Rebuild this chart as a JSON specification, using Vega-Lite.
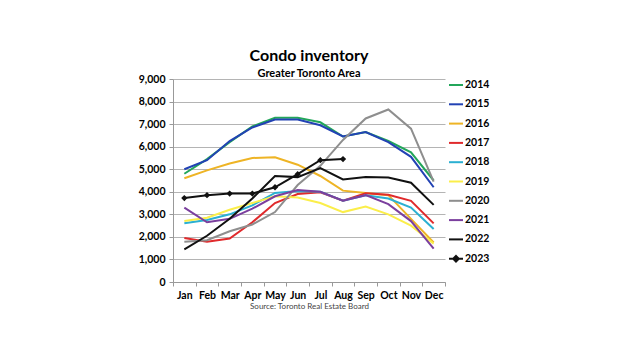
{
  "$schema": "https://vega.github.io/schema/vega-lite/v6.json",
  "autosize": "none",
  "width": 272,
  "height": 203,
  "padding": {"left": 173, "top": 79, "right": 195, "bottom": 78},
  "background": "white",
  "title": {
    "text": "Condo inventory",
    "subtitle": "Greater Toronto Area",
    "font": "Lato",
    "fontSize": 16,
    "fontWeight": "bold",
    "subtitleFont": "Lato",
    "subtitleFontSize": 11,
    "subtitleFontWeight": "bold",
    "subtitleColor": "black",
    "color": "black",
    "anchor": "middle",
    "offset": -5,
    "subtitlePadding": 4
  },
  "data": {"values": [
    {"m":"Jan","y":"2014","v":4800},{"m":"Feb","y":"2014","v":5450},{"m":"Mar","y":"2014","v":6200},{"m":"Apr","y":"2014","v":6900},{"m":"May","y":"2014","v":7280},{"m":"Jun","y":"2014","v":7280},{"m":"Jul","y":"2014","v":7080},{"m":"Aug","y":"2014","v":6450},{"m":"Sep","y":"2014","v":6650},{"m":"Oct","y":"2014","v":6250},{"m":"Nov","y":"2014","v":5750},{"m":"Dec","y":"2014","v":4500},
    {"m":"Jan","y":"2015","v":5000},{"m":"Feb","y":"2015","v":5400},{"m":"Mar","y":"2015","v":6250},{"m":"Apr","y":"2015","v":6850},{"m":"May","y":"2015","v":7200},{"m":"Jun","y":"2015","v":7200},{"m":"Jul","y":"2015","v":6950},{"m":"Aug","y":"2015","v":6450},{"m":"Sep","y":"2015","v":6650},{"m":"Oct","y":"2015","v":6200},{"m":"Nov","y":"2015","v":5550},{"m":"Dec","y":"2015","v":4200},
    {"m":"Jan","y":"2016","v":4600},{"m":"Feb","y":"2016","v":4950},{"m":"Mar","y":"2016","v":5250},{"m":"Apr","y":"2016","v":5500},{"m":"May","y":"2016","v":5530},{"m":"Jun","y":"2016","v":5200},{"m":"Jul","y":"2016","v":4700},{"m":"Aug","y":"2016","v":4050},{"m":"Sep","y":"2016","v":3950},{"m":"Oct","y":"2016","v":3850},{"m":"Nov","y":"2016","v":2800},{"m":"Dec","y":"2016","v":1750},
    {"m":"Jan","y":"2017","v":1950},{"m":"Feb","y":"2017","v":1780},{"m":"Mar","y":"2017","v":1930},{"m":"Apr","y":"2017","v":2650},{"m":"May","y":"2017","v":3500},{"m":"Jun","y":"2017","v":3900},{"m":"Jul","y":"2017","v":3980},{"m":"Aug","y":"2017","v":3600},{"m":"Sep","y":"2017","v":3930},{"m":"Oct","y":"2017","v":3870},{"m":"Nov","y":"2017","v":3600},{"m":"Dec","y":"2017","v":2600},
    {"m":"Jan","y":"2018","v":2600},{"m":"Feb","y":"2018","v":2750},{"m":"Mar","y":"2018","v":3000},{"m":"Apr","y":"2018","v":3400},{"m":"May","y":"2018","v":3950},{"m":"Jun","y":"2018","v":4030},{"m":"Jul","y":"2018","v":4000},{"m":"Aug","y":"2018","v":3600},{"m":"Sep","y":"2018","v":3850},{"m":"Oct","y":"2018","v":3700},{"m":"Nov","y":"2018","v":3300},{"m":"Dec","y":"2018","v":2350},
    {"m":"Jan","y":"2019","v":2700},{"m":"Feb","y":"2019","v":2850},{"m":"Mar","y":"2019","v":3200},{"m":"Apr","y":"2019","v":3500},{"m":"May","y":"2019","v":3800},{"m":"Jun","y":"2019","v":3750},{"m":"Jul","y":"2019","v":3500},{"m":"Aug","y":"2019","v":3100},{"m":"Sep","y":"2019","v":3350},{"m":"Oct","y":"2019","v":3000},{"m":"Nov","y":"2019","v":2500},{"m":"Dec","y":"2019","v":1700},
    {"m":"Jan","y":"2020","v":1780},{"m":"Feb","y":"2020","v":1850},{"m":"Mar","y":"2020","v":2250},{"m":"Apr","y":"2020","v":2550},{"m":"May","y":"2020","v":3100},{"m":"Jun","y":"2020","v":4300},{"m":"Jul","y":"2020","v":5150},{"m":"Aug","y":"2020","v":6300},{"m":"Sep","y":"2020","v":7250},{"m":"Oct","y":"2020","v":7650},{"m":"Nov","y":"2020","v":6800},{"m":"Dec","y":"2020","v":4450},
    {"m":"Jan","y":"2021","v":3300},{"m":"Feb","y":"2021","v":2650},{"m":"Mar","y":"2021","v":2800},{"m":"Apr","y":"2021","v":3250},{"m":"May","y":"2021","v":3800},{"m":"Jun","y":"2021","v":4080},{"m":"Jul","y":"2021","v":4000},{"m":"Aug","y":"2021","v":3600},{"m":"Sep","y":"2021","v":3850},{"m":"Oct","y":"2021","v":3450},{"m":"Nov","y":"2021","v":2700},{"m":"Dec","y":"2021","v":1480},
    {"m":"Jan","y":"2022","v":1450},{"m":"Feb","y":"2022","v":2050},{"m":"Mar","y":"2022","v":2800},{"m":"Apr","y":"2022","v":3700},{"m":"May","y":"2022","v":4700},{"m":"Jun","y":"2022","v":4650},{"m":"Jul","y":"2022","v":5050},{"m":"Aug","y":"2022","v":4550},{"m":"Sep","y":"2022","v":4650},{"m":"Oct","y":"2022","v":4630},{"m":"Nov","y":"2022","v":4400},{"m":"Dec","y":"2022","v":3420},
    {"m":"Jan","y":"2023","v":3720},{"m":"Feb","y":"2023","v":3850},{"m":"Mar","y":"2023","v":3920},{"m":"Apr","y":"2023","v":3920},{"m":"May","y":"2023","v":4200},{"m":"Jun","y":"2023","v":4780},{"m":"Jul","y":"2023","v":5400},{"m":"Aug","y":"2023","v":5450}
  ]},
  "encoding": {
    "x": {
      "field": "m", "type": "ordinal",
      "sort": ["Jan","Feb","Mar","Apr","May","Jun","Jul","Aug","Sep","Oct","Nov","Dec"],
      "scale": {"type": "band", "paddingInner": 0, "paddingOuter": 0},
      "axis": {
        "title": "Source: Toronto Real Estate Board",
        "titleFont": "Lato", "titleFontSize": 8, "titleFontWeight": "normal", "titleColor": "#444",
        "titlePadding": 2,
        "labelAngle": 0, "labelFont": "Lato", "labelFontSize": 10.5, "labelFontWeight": "bold", "labelColor": "black",
        "tickBand": "extent", "tickColor": "#999", "tickSize": 4, "domainColor": "#999", "labelPadding": 4,
        "grid": false
      }
    },
    "y": {
      "field": "v", "type": "quantitative",
      "scale": {"domain": [0, 9000], "nice": false},
      "axis": {
        "title": null, "values": [0,1000,2000,3000,4000,5000,6000,7000,8000,9000], "format": ",.0f",
        "labelFont": "Lato", "labelFontSize": 10.5, "labelFontWeight": "bold", "labelColor": "black",
        "tickColor": "#999", "tickSize": 4, "domainColor": "#999", "labelPadding": 4,
        "grid": true, "gridColor": "#b4b4b4", "gridWidth": 1
      }
    },
    "color": {
      "field": "y", "type": "nominal",
      "scale": {
        "domain": ["2014","2015","2016","2017","2018","2019","2020","2021","2022","2023"],
        "range": ["#23a65a","#2242b4","#eeb425","#e02a2c","#2bb0d2","#fbee4a","#8e8e8e","#7b3f9e","#111111","#111111"]
      },
      "legend": {
        "title": null, "orient": "none", "legendX": 275, "legendY": -2,
        "symbolType": "stroke", "symbolSize": 196, "symbolStrokeWidth": 2,
        "labelFont": "Lato", "labelFontSize": 10.5, "labelFontWeight": "bold", "labelColor": "black",
        "labelOffset": 1, "rowPadding": 5.3,
        "encode": {
          "symbols": {
            "update": {
              "shape": {"signal": "datum.label == '2023' ? 'M-1,0L1,0M0,-0.4L0.4,0L0,0.4L-0.4,0Z' : 'stroke'"},
              "fill": {"signal": "datum.label == '2023' ? '#111111' : 'transparent'"}
            }
          }
        }
      }
    }
  },
  "layer": [
    {"mark": {"type": "line", "strokeWidth": 2}},
    {
      "transform": [{"filter": "datum.y == '2023'"}],
      "mark": {"type": "point", "shape": "diamond", "filled": true, "size": 40, "opacity": 1},
      "encoding": {"color": {"value": "#111111"}}
    }
  ],
  "config": {"view": {"stroke": null}}
}
